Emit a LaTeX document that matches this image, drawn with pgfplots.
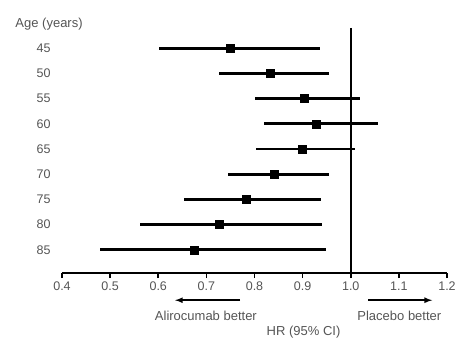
\documentclass[border=0pt]{standalone}
\usepackage{pgfplots}
\pgfplotsset{compat=1.18}
\usepackage{pgfplotstable}
\usepackage{fontspec}
\setmainfont{Liberation Sans}
\definecolor{txt}{HTML}{555555}
\pgfplotstableread{
row hr lo hi
1 0.749 0.601 0.936
2 0.833 0.727 0.955
3 0.904 0.802 1.020
4 0.929 0.819 1.056
5 0.899 0.803 1.009
6 0.841 0.745 0.955
7 0.782 0.653 0.938
8 0.727 0.563 0.940
9 0.674 0.480 0.948
}\hrdata
\begin{document}
\begin{tikzpicture}[x=1pt,y=1pt]
\path (-62,-78) rectangle (412,273);
\begin{axis}[
  at={(0,0)}, anchor=south west,
  scale only axis, width=385pt, height=245pt,
  xmin=0.4, xmax=1.2, ymin=0.2, ymax=9.92, y dir=reverse,
  clip=false,
  axis x line*=bottom, axis y line*=left,
  y axis line style={draw=none},
  x axis line style={line width=1.6pt,-},
  xtick={0.4,0.5,...,1.2},
  xticklabels={0.4,0.5,0.6,0.7,0.8,0.9,1.0,1.1,1.2},
  xtick style={line width=1.6pt,black},
  tick align=outside, major tick length=5pt,
  ytick={1,...,9},
  yticklabels={45,50,55,60,65,70,75,80,85},
  ytick style={draw=none},
  yticklabel style={xshift=-3pt},
  ticklabel style={font=\fontsize{12.5}{14}\selectfont, text=txt},
  /pgf/number format/assume math mode=true,
]
\draw[line width=1.8pt] (axis cs:1.0,0.2) -- (axis cs:1.0,9.92);
\addplot[only marks, mark=square*, mark size=4pt, black,
  error bars/.cd, x dir=both, x explicit, error mark=none,
  error bar style={line width=2.8pt,black}]
  table[x=hr, y=row,
    x error plus expr=\thisrow{hi}-\thisrow{hr},
    x error minus expr=\thisrow{hr}-\thisrow{lo}] {\hrdata};
\node[anchor=west, text=txt, font=\fontsize{13}{15}\selectfont] at (axis cs:0.296,0.04) {Age (years)};
\draw[line width=1.6pt,-latex] (axis cs:0.770,11) -- (axis cs:0.635,11);
\draw[line width=1.6pt,-latex] (axis cs:1.036,11) -- (axis cs:1.169,11);
\node[text=txt, font=\fontsize{13}{15}\selectfont] at (axis cs:0.699,11.62) {Alirocumab better};
\node[text=txt, font=\fontsize{13}{15}\selectfont] at (axis cs:1.101,11.62) {Placebo better};
\node[text=txt, font=\fontsize{13}{15}\selectfont] at (axis cs:0.902,12.26) {HR (95\% CI)};
\end{axis}
\end{tikzpicture}
\end{document}
